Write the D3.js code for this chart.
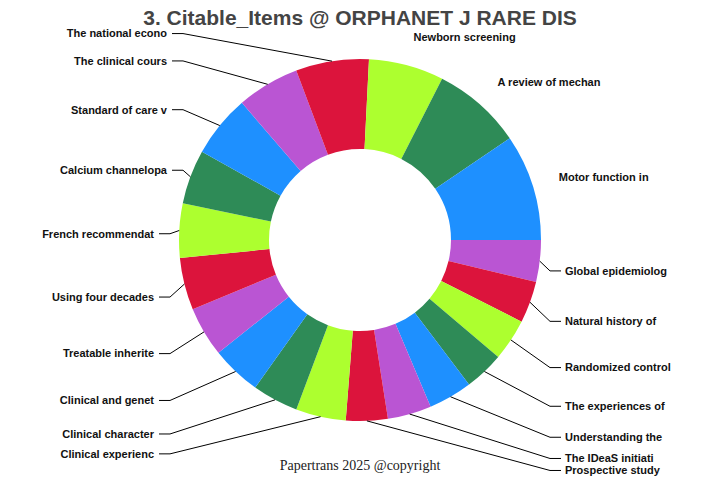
<!DOCTYPE html>
<html lang="en">
<head>
  <meta charset="UTF-8">
  <title>Citable_Items</title>
  <script src="https://d3js.org/d3.v7.min.js"></script>
  <style>
    html, body {
      margin: 0;
      padding: 0;
      background: #fff;
    }
    .label {
      font-family: "Liberation Sans", Arial, sans-serif;
      font-size: 11px;
      font-weight: 700;
      fill: #111;
    }
  </style>
</head>
<body>
  <div id="chart"></div>
  <script>
    // slices listed clockwise, starting at 3 o'clock
    var labels = ["Global epidemiolog", "Natural history of", "Randomized control", "The experiences of",
      "Understanding the", "The IDeaS initiati", "Prospective study", "Clinical experienc",
      "Clinical character", "Clinical and genet", "Treatable inherite", "Using four decades",
      "French recommendat", "Calcium channelopa", "Standard of care v", "The clinical cours",
      "The national econo", "Newborn screening", "A review of mechan", "Motor function in"];
    var values = [20, 20, 20, 19, 21, 21, 20, 24, 22, 24, 24, 25, 26, 26, 30, 30, 35, 36, 43, 51];
    var colors = ["#BA55D3", "#DC143C", "#ADFF2F", "#2E8B57", "#1E90FF"];
    var title = "3. Citable_Items @ ORPHANET J RARE DIS";
    var footer = "Papertrans 2025 @copyright";

    var
      width = 720,
      height = 480,
      cx = 360,
      cy = 240,
      outerR = 181,
      innerR = 91,
      labelR = 208,
      gap = 12;

    var data = labels.map(function(l, i) { return { name: l, value: values[i] }; });

    var svg = d3.select("#chart").append("svg")
      .attr("width", width)
      .attr("height", height);

    var g = svg.append("g")
      .attr("transform", "translate(" + cx + "," + cy + ")");

    var pie = d3.pie()
      .sort(null)
      .value(function(d) { return d.value; })
      .startAngle(Math.PI / 2)
      .endAngle(Math.PI / 2 + 2 * Math.PI);

    var arc = d3.arc().innerRadius(innerR).outerRadius(outerR);
    var color = d3.scaleOrdinal().domain(d3.range(colors.length)).range(colors);

    var arcs = pie(data);

    g.selectAll(".slice")
      .data(arcs)
      .enter()
      .append("path")
      .attr("class", "slice")
      .attr("d", arc)
      .attr("fill", function(d, i) { return color(i % colors.length); });

    arcs.forEach(function(d) {
      var a = (d.startAngle + d.endAngle) / 2;
      if (a >= 2 * Math.PI) a -= 2 * Math.PI;
      d.mid = a;
      d.right = a < Math.PI;
      d.px = Math.sin(a) * outerR;
      d.py = -Math.cos(a) * outerR;
      d.ty = 5 - Math.cos(a) * (d.right ? 222 : 214);
    });

    // upper right: plain labels, no leader
    var plain = arcs.filter(function(d) { return d.mid < Math.PI / 2; });
    var right = arcs.filter(function(d) { return d.mid >= Math.PI / 2 && d.mid < Math.PI; });
    var left = arcs.filter(function(d) { return d.mid >= Math.PI; });

    function relax(items) {
      items.sort(function(a, b) { return a.ty - b.ty; });
      for (var i = 1; i < items.length; i++) {
        if (items[i].ty < items[i - 1].ty + gap) items[i].ty = items[i - 1].ty + gap;
      }
    }
    relax(right);
    relax(left);

    // upper left labels sit a little closer in
    left.forEach(function(d) { d.shift = d.ty < -30 ? 13 : 0; });
    right.forEach(function(d) { d.shift = 0; });

    g.selectAll(".plain")
      .data(plain)
      .enter()
      .append("text")
      .attr("class", "label")
      .attr("x", function(d) { return Math.sin(d.mid) * labelR; })
      .attr("y", function(d) { return -Math.cos(d.mid) * labelR - 2; })
      .attr("dy", "0.35em")
      .attr("text-anchor", "start")
      .text(function(d) { return d.data.name; });

    var leaders = right.concat(left);

    g.selectAll(".leader")
      .data(leaders)
      .enter()
      .append("polyline")
      .attr("class", "leader")
      .attr("fill", "none")
      .attr("stroke", "#000")
      .attr("stroke-width", 1)
      .attr("points", function(d) {
        var s = d.right ? 1 : -1;
        return [[d.px, d.py], [s * (190 - d.shift), d.ty], [s * (201 - d.shift), d.ty]].join(" ");
      });

    g.selectAll(".side")
      .data(leaders)
      .enter()
      .append("text")
      .attr("class", "label")
      .attr("x", function(d) { return d.right ? 205 : -(206 - d.shift); })
      .attr("y", function(d) { return d.ty; })
      .attr("dy", "0.35em")
      .attr("text-anchor", function(d) { return d.right ? "start" : "end"; })
      .text(function(d) { return d.data.name; });

    svg.append("text")
      .attr("x", cx)
      .attr("y", 25)
      .attr("text-anchor", "middle")
      .style("font-family", "'Liberation Sans', Arial, sans-serif")
      .style("font-size", "21px")
      .style("font-weight", "700")
      .style("fill", "#444")
      .text(title);

    svg.append("text")
      .attr("x", cx)
      .attr("y", 470)
      .attr("text-anchor", "middle")
      .style("font-family", "'Liberation Serif', 'Times New Roman', serif")
      .style("font-size", "14px")
      .style("fill", "#222")
      .text(footer);
  </script>
</body>
</html>
